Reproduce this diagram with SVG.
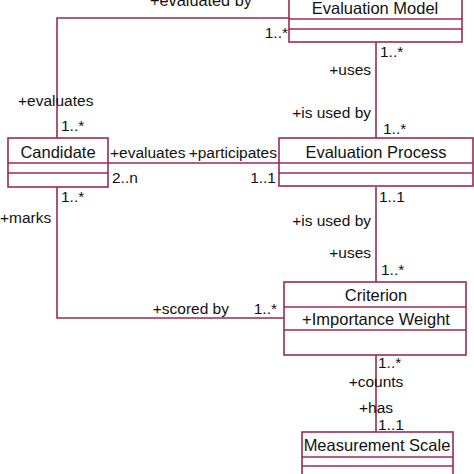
<svg xmlns="http://www.w3.org/2000/svg" width="474" height="474" viewBox="0 0 474 474">
<style>
.b{fill:#fff;stroke:#9a2a52;stroke-width:1.6}
.l{fill:none;stroke:#9a2a52;stroke-width:1.6}
text{font-family:"Liberation Sans",Arial,sans-serif;font-size:15.5px;fill:#111}
.c{font-size:16.5px}
.m{text-anchor:middle}
.e{text-anchor:end}
</style>
<rect width="474" height="474" fill="#fff"/>
<g id="connectors">
<polyline class="l" points="289,18 57,18 57,138"/>
<line class="l" x1="376" y1="42" x2="376" y2="138"/>
<line class="l" x1="108" y1="163" x2="279" y2="163"/>
<polyline class="l" points="57,187 57,318 284,318"/>
<line class="l" x1="376" y1="187" x2="376" y2="282"/>
<line class="l" x1="376" y1="355" x2="376" y2="432"/>
<text x="150" y="6" style="font-size:16.3px">+evaluated by</text>
<text x="288" y="38" class="e">1..*</text>
<text x="18" y="106">+evaluates</text>
<text x="61" y="131">1..*</text>
<text x="380" y="57">1..*</text>
<text x="371" y="75" class="e">+uses</text>
<text x="371" y="118" class="e">+is used by</text>
<text x="383" y="134">1..*</text>
<text x="110" y="158">+evaluates</text>
<text x="277" y="158" class="e">+participates</text>
<text x="112" y="183">2..n</text>
<text x="276" y="183" class="e">1..1</text>
<text x="61" y="202">1..*</text>
<text x="0" y="223">+marks</text>
<text x="379" y="202">1..1</text>
<text x="371" y="226" class="e">+is used by</text>
<text x="371" y="258" class="e">+uses</text>
<text x="381" y="275">1..*</text>
<text x="229" y="314" class="e">+scored by</text>
<text x="277" y="314" class="e">1..*</text>
<text x="378" y="368">1..*</text>
<text x="376" y="387" class="m">+counts</text>
<text x="376" y="413" class="m">+has</text>
<text x="378" y="430">1..1</text>
</g>
<g id="evaluation-model">
<rect class="b" x="289" y="-4" width="173" height="46"/>
<line class="l" x1="289" y1="19" x2="462" y2="19"/>
<line class="l" x1="289" y1="29" x2="462" y2="29"/>
<text x="375" y="14" class="m c">Evaluation Model</text>
</g>
<g id="candidate">
<rect class="b" x="8" y="138" width="100" height="49"/>
<line class="l" x1="8" y1="163" x2="108" y2="163"/>
<line class="l" x1="8" y1="173" x2="108" y2="173"/>
<text x="58" y="158" class="m c">Candidate</text>
</g>
<g id="evaluation-process">
<rect class="b" x="279" y="138" width="194" height="48"/>
<line class="l" x1="279" y1="163" x2="473" y2="163"/>
<line class="l" x1="279" y1="173" x2="473" y2="173"/>
<text x="376" y="158" class="m c">Evaluation Process</text>
</g>
<g id="criterion">
<rect class="b" x="284" y="282" width="182" height="73"/>
<line class="l" x1="284" y1="307" x2="466" y2="307"/>
<line class="l" x1="284" y1="330" x2="466" y2="330"/>
<text x="376" y="301" class="m c">Criterion</text>
<text x="376" y="325" class="m c">+Importance Weight</text>
</g>
<g id="measurement-scale">
<rect class="b" x="302" y="432" width="151" height="50"/>
<line class="l" x1="302" y1="457" x2="453" y2="457"/>
<line class="l" x1="302" y1="466" x2="453" y2="466"/>
<text x="377" y="451" class="m c">Measurement Scale</text>
</g>
</svg>
